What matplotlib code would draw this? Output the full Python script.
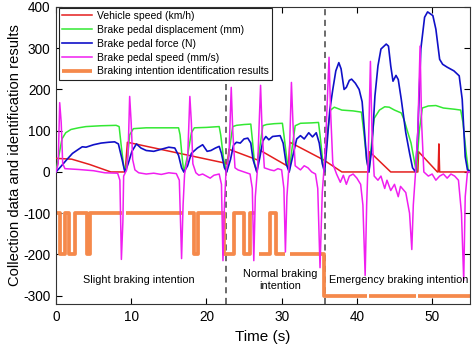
import numpy as np
import matplotlib
matplotlib.use("Agg")
import matplotlib.pyplot as plt

plt.rcParams['font.family'] = ['Liberation Sans', 'DejaVu Sans']
plt.rcParams['axes.unicode_minus'] = False

# ---------------- data (time in s) ----------------
speed_t = [0, 2.1, 4.5, 7.3, 9.2, 9.5, 22.6, 22.8, 23.0, 26.8, 27.0, 30.9, 31.1, 35.6, 38.0, 41.6, 41.7,
           44.5, 48.1, 48.2, 50.7, 50.8, 50.9, 51.0, 55]
speed_v = [33, 31, 18, 0, 0, 72, 21, 21, 55, 29, 54, 13, 72, 29, 0, 0, 49,
           0, 0, 49, 0, 0, 68, 0, 0]

disp_t = [0, 0.4, 0.8, 1.3, 2, 3, 4, 6, 8, 8.4, 8.7, 9.0, 9.2,
          9.5, 9.8, 10.3, 12, 14, 16.3, 16.5, 16.8, 17.0,
          17.5, 18.0, 18.4, 20, 21.7, 21.9, 22.3, 22.7,
          23.1, 23.5, 24, 25, 25.9, 26.1, 26.4, 26.7,
          27.1, 27.5, 28, 29, 30.1, 30.3, 30.7, 31.0,
          31.4, 31.8, 32.5, 34, 34.9, 35.1, 35.5, 35.7,
          36.1, 36.5, 37, 38, 39.5, 40.6, 40.9, 41.3, 41.6,
          41.9, 42.3, 43, 43.7, 44.3, 45, 45.9, 46.3, 46.7, 47.2, 47.6, 47.9,
          48.3, 48.7, 49.5, 50.5, 51.5, 53, 53.8, 54.1, 54.5, 54.8, 55]
disp_v = [0, 40, 80, 95, 103, 107, 110, 112, 113, 110, 60, 15, 0,
          30, 90, 105, 107, 107, 107, 90, 30, 0,
          40, 95, 107, 108, 110, 90, 30, 0,
          60, 110, 113, 115, 116, 80, 20, 0,
          60, 112, 115, 117, 118, 90, 30, 0,
          60, 112, 118, 119, 120, 90, 20, 0,
          100, 150, 157, 150, 148, 145, 100, 30, 0,
          60, 130, 150, 158, 157, 150, 143, 125, 100, 70, 30, 0,
          100, 155, 160, 161, 155, 152, 150, 120, 50, 5, 0]

force_t = [0, 0.6, 1.4, 2.2, 3, 3.5, 4, 5, 6, 7, 7.8, 8.3, 8.8, 9.1, 9.2,
           9.6, 10.1, 10.7, 11.3, 12, 13, 14, 15, 15.8, 16.3, 16.7, 17.0,
           17.5, 18.0, 18.8, 19.5, 20.1, 20.6, 21.2, 21.7, 22.0, 22.4, 22.7,
           23.2, 23.6, 24.0, 24.5, 25.0, 25.5, 25.9, 26.2, 26.7,
           27.1, 27.5, 27.9, 28.3, 28.8, 29.8, 30.2, 30.6, 31.0,
           31.5, 32.0, 32.5, 33.0, 33.6, 34.1, 34.6, 35.0, 35.4, 35.7,
           36.0, 36.4, 36.8, 37.2, 37.6, 37.9, 38.3, 38.6, 39.0, 39.3, 39.8, 40.3, 40.7, 41.0, 41.3, 41.6,
           42.0, 42.4, 42.8, 43.2, 43.9, 44.2, 44.5, 44.8, 45.2, 45.5, 45.9, 46.5, 47.0, 47.4, 47.8,
           48.1, 48.5, 49.0, 49.4, 50.1, 50.5, 51.0, 51.4, 52.0, 52.9, 53.6, 54.0, 54.4, 54.7, 55]
force_v = [0, 12, 29, 45, 55, 61, 60, 66, 70, 72, 73, 68, 30, 5, 0,
           20, 50, 68, 58, 52, 50, 55, 60, 58, 40, 10, 0,
           15, 45, 58, 66, 50, 52, 58, 62, 45, 10, 0,
           30, 65, 72, 70, 80, 82, 70, 30, 0,
           35, 75, 86, 78, 86, 88, 70, 20, 0,
           40, 80, 88, 80, 95, 85, 95, 70, 20, 0,
           60, 150, 200, 245, 265, 250, 200, 205, 222, 225, 215, 200, 170, 100, 30, 0,
           60, 184, 257, 298, 310, 305, 257, 220, 234, 224, 176, 95, 46, 10, 0,
           95, 298, 375, 388, 379, 346, 273, 261, 254, 245, 233, 176, 37, 5, 3]

pspeed_t = [0, 0.3, 0.5, 0.7, 0.9, 1.2, 3, 5, 6.5, 8.2, 8.5, 8.7, 8.9, 9.0, 9.4, 9.6, 9.8, 10.0, 10.2,
            10.5, 11, 12, 13, 14, 15, 16, 16.4, 16.7, 16.9, 17.1, 17.5, 17.8, 18.0, 18.2, 18.6, 19, 19.5,
            20, 20.5, 21, 21.7, 22.0, 22.2, 22.4, 22.6, 23.0, 23.3, 23.5, 23.8, 24.2, 25, 25.8, 26.1,
            26.3, 26.5, 26.8, 27.2, 27.4, 27.7, 28.5, 29, 29.5, 30, 30.3, 30.5, 30.7, 31.0, 31.3, 31.5,
            31.8, 32.5, 33, 33.5, 34, 34.5, 34.8, 35.1, 35.4, 35.8, 36.3, 36.5, 36.8, 37.3, 37.8, 38.2,
            38.6, 39, 39.5, 40, 40.5, 40.8, 41.1, 41.3, 41.5, 41.8, 42.0, 42.3, 42.8, 43.2, 43.7, 44,
            44.5, 45, 45.5, 45.8, 46.5, 47, 47.3, 47.5, 47.8, 48.1, 48.4, 48.6, 48.9, 49.5, 50, 50.5,
            51, 51.5, 52, 52.5, 53, 53.5, 53.9, 54.2, 54.4, 54.7, 55]
pspeed_v = [0, 20, 168, 120, 20, 8, 6, 3, -2, -3, -20, -212, -120, -10, 5, 50, 183, 120, 30,
            5, -2, -5, -3, -6, -2, -4, -20, -210, -80, -5, 30, 183, 120, 20, -2, -8, -5,
            -10, -15, -8, -5, -30, -215, -80, 0, 40, 205, 100, 10, 5, 0, -5, -40,
            -215, -60, 10, 210, 100, 10, 5, 3, 8, 5, -40, -194, -60, 20, 217, 120,
            15, 5, 15, 10, 0, -5, -40, -232, -50, 50, 278, 150, 20, -5, -25, -8,
            -30, -10, -5, -15, -30, -80, -251, -80, 30, 268, 100, -10, -20, -10, -40, -20,
            -45, -30, -60, -35, -50, -100, -188, -80, 0, 100, 305, 120, 0, -10, -5, -20,
            -10, -5, -15, -5, -10, -20, -100, -263, -60, 0, 0]

nan = np.nan
intent_t = [0, 0.5, 0.5, 1.2, 1.2, 1.7, 1.7, 2.5, 2.5, 4.1, 4.1, 4.5, 4.5, 8.8, 8.8,
            9.3, 16.9, 16.9,
            17.5, 18.3, 18.3, 18.9, 18.9, 22.3, 22.3, 23.7, 23.7, 25.0, 25.0, 25.8, 25.8, 26.5, 26.5,
            27.0, 28.5, 28.5, 29.3, 29.3, 30.5, 30.5,
            31.1, 35.65, 35.65, 41.4, 41.4,
            41.6, 47.9, 47.9,
            48.1, 55]
intent_v = [-100, -100, -200, -200, -100, -100, -200, -200, -100, -100, -200, -200, -100, -100, nan,
            -100, -100, nan,
            -100, -100, -200, -200, -100, -100, -200, -200, -100, -100, -200, -200, -100, -100, nan,
            -200, -200, -100, -100, -200, -200, nan,
            -200, -200, -300, -300, nan,
            -300, -300, nan,
            -300, -300]

boundaries = [22.6, 35.7]
region_labels = ["Slight braking intention", "Normal braking\nintention", "Emergency braking intention"]
region_x = [11.0, 29.8, 45.6]

# ---------------- figure ----------------
fig = plt.figure(figsize=(4.74, 3.47), dpi=100)
ax = fig.add_axes([0.118, 0.124, 0.873, 0.856])

ax.plot(speed_t, speed_v, color='#e41e1e', lw=1.1, label='Vehicle speed (km/h)', zorder=3)
ax.plot(disp_t, disp_v, color='#33e833', lw=1.1, label='Brake pedal displacement (mm)', zorder=3)
ax.plot(force_t, force_v, color='#1010c8', lw=1.2, label='Brake pedal force (N)', zorder=3)
ax.plot(pspeed_t, pspeed_v, color='#f01ef0', lw=1.1, label='Brake pedal speed (mm/s)', zorder=3)
ax.plot(intent_t, intent_v, color='#f5894b', lw=2.7, label='Braking intention identification results',
        zorder=2, solid_capstyle='butt')

for b in boundaries:
    ax.axvline(b, color='#444444', lw=1.1, ls=(0, (4, 3)), zorder=1)

for x, s in zip(region_x, region_labels):
    ax.text(x, -262, s, ha='center', va='center', fontsize=7.8, linespacing=1.25)

ax.set_xlim(0, 55)
ax.set_ylim(-320, 400)
ax.set_xticks([0, 10, 20, 30, 40, 50])
ax.set_yticks([-300, -200, -100, 0, 100, 200, 300, 400])
ax.tick_params(direction='in', top=True, right=True, labelsize=9.8, length=4, width=0.8, pad=4)
for sp in ax.spines.values():
    sp.set_linewidth(0.8)
    sp.set_color('#333333')

ax.set_xlabel('Time (s)', fontsize=11, labelpad=5)
ax.set_ylabel('Collection data and identification results', fontsize=10.6, labelpad=1)

leg = ax.legend(loc='upper left', bbox_to_anchor=(0.008, 0.998), fontsize=7.5, frameon=True,
                fancybox=False, edgecolor='#222222', framealpha=1, borderpad=0.3,
                labelspacing=0.38, handlelength=2.8, handletextpad=0.5, borderaxespad=0.0)
leg.get_frame().set_linewidth(0.8)
leg.set_zorder(10)

fig.savefig('out.png', dpi=100)
